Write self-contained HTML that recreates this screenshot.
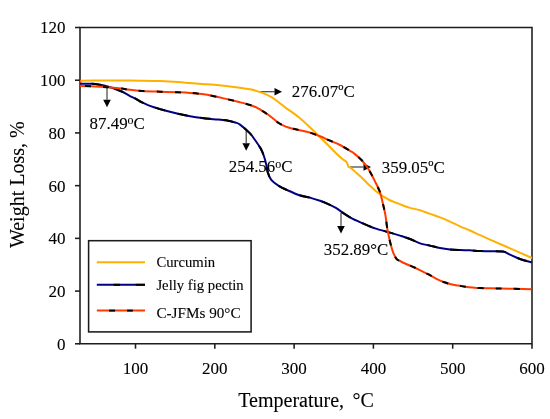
<!DOCTYPE html>
<html><head><meta charset="utf-8"><style>
html,body{margin:0;padding:0;background:#fff;}
body{width:550px;height:419px;overflow:hidden;}
svg{display:block;}
text{font-family:"Liberation Serif","Times New Roman",serif;fill:#000;stroke:#000;stroke-width:0.1px;}
.t16{font-size:17px;}
.ta{font-size:16.9px;}
.tl{font-size:14.7px;}
.tt{font-size:20px;}
.sup{font-size:12px;}
</style></head><body>
<svg width="550" height="419" viewBox="0 0 550 419">
<path d="M80,343.8 L80,27.5 L532,27.5 L532,343.8 Z" fill="none" stroke="#1c1c1c" stroke-width="1.55"/>
<line x1="75" y1="343.80" x2="80" y2="343.80" stroke="#1c1c1c" stroke-width="1.55"/>
<text x="65.5" y="349.70" text-anchor="end" class="t16">0</text>
<line x1="75" y1="291.08" x2="80" y2="291.08" stroke="#1c1c1c" stroke-width="1.55"/>
<text x="65.5" y="296.98" text-anchor="end" class="t16">20</text>
<line x1="75" y1="238.37" x2="80" y2="238.37" stroke="#1c1c1c" stroke-width="1.55"/>
<text x="65.5" y="244.27" text-anchor="end" class="t16">40</text>
<line x1="75" y1="185.65" x2="80" y2="185.65" stroke="#1c1c1c" stroke-width="1.55"/>
<text x="65.5" y="191.55" text-anchor="end" class="t16">60</text>
<line x1="75" y1="132.93" x2="80" y2="132.93" stroke="#1c1c1c" stroke-width="1.55"/>
<text x="65.5" y="138.83" text-anchor="end" class="t16">80</text>
<line x1="75" y1="80.22" x2="80" y2="80.22" stroke="#1c1c1c" stroke-width="1.55"/>
<text x="65.5" y="86.12" text-anchor="end" class="t16">100</text>
<line x1="75" y1="27.50" x2="80" y2="27.50" stroke="#1c1c1c" stroke-width="1.55"/>
<text x="65.5" y="33.40" text-anchor="end" class="t16">120</text>
<line x1="135.51" y1="343.8" x2="135.51" y2="348.7" stroke="#1c1c1c" stroke-width="1.55"/>
<text x="135.51" y="373.6" text-anchor="middle" class="t16">100</text>
<line x1="214.81" y1="343.8" x2="214.81" y2="348.7" stroke="#1c1c1c" stroke-width="1.55"/>
<text x="214.81" y="373.6" text-anchor="middle" class="t16">200</text>
<line x1="294.11" y1="343.8" x2="294.11" y2="348.7" stroke="#1c1c1c" stroke-width="1.55"/>
<text x="294.11" y="373.6" text-anchor="middle" class="t16">300</text>
<line x1="373.40" y1="343.8" x2="373.40" y2="348.7" stroke="#1c1c1c" stroke-width="1.55"/>
<text x="373.40" y="373.6" text-anchor="middle" class="t16">400</text>
<line x1="452.70" y1="343.8" x2="452.70" y2="348.7" stroke="#1c1c1c" stroke-width="1.55"/>
<text x="452.70" y="373.6" text-anchor="middle" class="t16">500</text>
<line x1="532.00" y1="343.8" x2="532.00" y2="348.7" stroke="#1c1c1c" stroke-width="1.55"/>
<text x="532.00" y="373.6" text-anchor="middle" class="t16">600</text>
<text x="89.6" y="128.6" class="ta">87.49<tspan class="sup" dy="-4.5">o</tspan><tspan dy="4.5">C</tspan></text>
<text x="228.8" y="172.3" class="ta">254.56<tspan class="sup" dy="-4.5">o</tspan><tspan dy="4.5">C</tspan></text>
<text x="291.8" y="97" class="ta">276.07ºC</text>
<text x="381.8" y="172.7" class="ta">359.05ºC</text>
<text x="323.8" y="254.5" class="ta">352.89°C</text>
<line x1="107.0" y1="86.4" x2="107.00" y2="99.70" stroke="#404040" stroke-width="1.2"/>
<polygon points="107.0,107.2 103.20,99.70 110.80,99.70" fill="#000"/>
<line x1="246.2" y1="130.5" x2="246.20" y2="143.20" stroke="#404040" stroke-width="1.2"/>
<polygon points="246.2,150.7 242.40,143.20 250.00,143.20" fill="#000"/>
<line x1="260" y1="91.7" x2="274.50" y2="91.70" stroke="#404040" stroke-width="1.2"/>
<polygon points="282,91.7 274.50,95.50 274.50,87.90" fill="#000"/>
<line x1="350" y1="167" x2="363.50" y2="167.00" stroke="#404040" stroke-width="1.2"/>
<polygon points="371,167 363.50,170.80 363.50,163.20" fill="#000"/>
<line x1="341" y1="213" x2="341.00" y2="226.10" stroke="#404040" stroke-width="1.2"/>
<polygon points="341,233.6 337.20,226.10 344.80,226.10" fill="#000"/>
<line x1="80.6" y1="80.2" x2="80.6" y2="86.4" stroke="#FF3A00" stroke-width="1.6"/>
<path d="M80.50,80.80 C83.75,80.75 93.42,80.55 100.00,80.50 C106.58,80.45 113.33,80.47 120.00,80.50 C126.67,80.53 133.33,80.60 140.00,80.70 C146.67,80.80 153.67,80.88 160.00,81.10 C166.33,81.32 173.00,81.67 178.00,82.00 C183.00,82.33 186.00,82.77 190.00,83.10 C194.00,83.43 198.00,83.72 202.00,84.00 C206.00,84.28 210.00,84.47 214.00,84.80 C218.00,85.13 222.00,85.55 226.00,86.00 C230.00,86.45 234.00,86.95 238.00,87.50 C242.00,88.05 246.80,88.68 250.00,89.30 C253.20,89.92 254.82,90.48 257.20,91.20 C259.58,91.92 261.92,92.60 264.30,93.60 C266.68,94.60 269.10,95.77 271.50,97.20 C273.90,98.63 276.32,100.42 278.70,102.20 C281.08,103.98 283.42,106.12 285.80,107.90 C288.18,109.68 290.63,111.18 293.00,112.90 C295.37,114.62 297.63,116.23 300.00,118.20 C302.37,120.17 304.82,122.48 307.20,124.70 C309.58,126.92 311.92,129.17 314.30,131.50 C316.68,133.83 319.10,136.32 321.50,138.70 C323.90,141.08 326.32,143.42 328.70,145.80 C331.08,148.18 333.42,150.70 335.80,153.00 C338.18,155.30 341.33,158.23 343.00,159.60 C344.67,160.97 345.08,160.55 345.80,161.20 C346.52,161.85 346.85,162.57 347.30,163.50 C347.75,164.43 347.80,165.97 348.50,166.80 C349.20,167.63 350.15,167.45 351.50,168.50 C352.85,169.55 354.67,171.35 356.60,173.10 C358.53,174.85 360.92,176.92 363.10,179.00 C365.28,181.08 367.50,183.52 369.70,185.60 C371.90,187.68 374.12,189.75 376.30,191.50 C378.48,193.25 380.62,194.68 382.80,196.10 C384.98,197.52 387.20,198.90 389.40,200.00 C391.60,201.10 393.82,201.82 396.00,202.70 C398.18,203.58 400.17,204.43 402.50,205.30 C404.83,206.17 407.08,207.08 410.00,207.90 C412.92,208.72 416.67,209.20 420.00,210.20 C423.33,211.20 426.67,212.70 430.00,213.90 C433.33,215.10 436.67,216.12 440.00,217.40 C443.33,218.68 446.67,220.12 450.00,221.60 C453.33,223.08 456.67,224.82 460.00,226.30 C463.33,227.78 466.67,229.02 470.00,230.50 C473.33,231.98 476.67,233.68 480.00,235.20 C483.33,236.72 485.00,237.42 490.00,239.60 C495.00,241.78 503.00,245.23 510.00,248.30 C517.00,251.37 528.33,256.38 532.00,258.00" fill="none" stroke="#FFB000" stroke-width="2" stroke-linejoin="round"/>
<path d="M80.00,83.70 C82.00,83.70 88.67,83.52 92.00,83.70 C95.33,83.88 97.25,84.28 100.00,84.80 C102.75,85.32 105.80,86.07 108.50,86.80 C111.20,87.53 113.65,88.25 116.20,89.20 C118.75,90.15 121.43,91.32 123.80,92.50 C126.17,93.68 128.37,95.23 130.40,96.30 C132.43,97.37 134.07,97.88 136.00,98.90 C137.93,99.92 140.00,101.37 142.00,102.40 C144.00,103.43 146.00,104.30 148.00,105.10 C150.00,105.90 151.00,106.25 154.00,107.20 C157.00,108.15 162.00,109.70 166.00,110.80 C170.00,111.90 174.00,112.90 178.00,113.80 C182.00,114.70 186.00,115.50 190.00,116.20 C194.00,116.90 198.00,117.50 202.00,118.00 C206.00,118.50 210.00,118.82 214.00,119.20 C218.00,119.58 222.45,119.75 226.00,120.30 C229.55,120.85 232.97,121.78 235.30,122.50 C237.63,123.22 237.55,122.78 240.00,124.60 C242.45,126.42 247.50,130.83 250.00,133.40 C252.50,135.97 253.22,137.47 255.00,140.00 C256.78,142.53 259.15,145.73 260.70,148.60 C262.25,151.47 263.33,154.33 264.30,157.20 C265.27,160.07 265.88,163.17 266.50,165.80 C267.12,168.43 267.17,170.62 268.00,173.00 C268.83,175.38 269.72,177.97 271.50,180.10 C273.28,182.23 276.08,184.13 278.70,185.80 C281.32,187.47 283.75,188.53 287.20,190.10 C290.65,191.67 295.37,193.87 299.40,195.20 C303.43,196.53 307.97,197.17 311.40,198.10 C314.83,199.03 317.28,199.85 320.00,200.80 C322.72,201.75 325.05,202.62 327.70,203.80 C330.35,204.98 333.17,206.27 335.90,207.90 C338.63,209.53 341.37,211.82 344.10,213.60 C346.83,215.38 349.57,217.15 352.30,218.60 C355.03,220.05 357.78,221.08 360.50,222.30 C363.22,223.52 365.88,224.80 368.60,225.90 C371.32,227.00 373.23,227.78 376.80,228.90 C380.37,230.02 386.13,231.48 390.00,232.60 C393.87,233.72 396.67,234.53 400.00,235.60 C403.33,236.67 406.67,237.70 410.00,239.00 C413.33,240.30 416.67,242.30 420.00,243.40 C423.33,244.50 426.67,244.83 430.00,245.60 C433.33,246.37 436.67,247.37 440.00,248.00 C443.33,248.63 446.67,249.07 450.00,249.40 C453.33,249.73 456.67,249.85 460.00,250.00 C463.33,250.15 466.67,250.13 470.00,250.30 C473.33,250.47 476.67,250.85 480.00,251.00 C483.33,251.15 486.17,251.10 490.00,251.20 C493.83,251.30 499.67,251.02 503.00,251.60 C506.33,252.18 507.17,253.47 510.00,254.70 C512.83,255.93 516.33,257.72 520.00,259.00 C523.67,260.28 530.00,261.83 532.00,262.40" fill="none" stroke="#000080" stroke-width="2" stroke-linejoin="round"/>
<path d="M80.00,83.70 C82.00,83.70 88.67,83.52 92.00,83.70 C95.33,83.88 97.25,84.28 100.00,84.80 C102.75,85.32 105.80,86.07 108.50,86.80 C111.20,87.53 113.65,88.25 116.20,89.20 C118.75,90.15 121.43,91.32 123.80,92.50 C126.17,93.68 128.37,95.23 130.40,96.30 C132.43,97.37 134.07,97.88 136.00,98.90 C137.93,99.92 140.00,101.37 142.00,102.40 C144.00,103.43 146.00,104.30 148.00,105.10 C150.00,105.90 151.00,106.25 154.00,107.20 C157.00,108.15 162.00,109.70 166.00,110.80 C170.00,111.90 174.00,112.90 178.00,113.80 C182.00,114.70 186.00,115.50 190.00,116.20 C194.00,116.90 198.00,117.50 202.00,118.00 C206.00,118.50 210.00,118.82 214.00,119.20 C218.00,119.58 222.45,119.75 226.00,120.30 C229.55,120.85 232.97,121.78 235.30,122.50 C237.63,123.22 237.55,122.78 240.00,124.60 C242.45,126.42 247.50,130.83 250.00,133.40 C252.50,135.97 253.22,137.47 255.00,140.00 C256.78,142.53 259.15,145.73 260.70,148.60 C262.25,151.47 263.33,154.33 264.30,157.20 C265.27,160.07 265.88,163.17 266.50,165.80 C267.12,168.43 267.17,170.62 268.00,173.00 C268.83,175.38 269.72,177.97 271.50,180.10 C273.28,182.23 276.08,184.13 278.70,185.80 C281.32,187.47 283.75,188.53 287.20,190.10 C290.65,191.67 295.37,193.87 299.40,195.20 C303.43,196.53 307.97,197.17 311.40,198.10 C314.83,199.03 317.28,199.85 320.00,200.80 C322.72,201.75 325.05,202.62 327.70,203.80 C330.35,204.98 333.17,206.27 335.90,207.90 C338.63,209.53 341.37,211.82 344.10,213.60 C346.83,215.38 349.57,217.15 352.30,218.60 C355.03,220.05 357.78,221.08 360.50,222.30 C363.22,223.52 365.88,224.80 368.60,225.90 C371.32,227.00 373.23,227.78 376.80,228.90 C380.37,230.02 386.13,231.48 390.00,232.60 C393.87,233.72 396.67,234.53 400.00,235.60 C403.33,236.67 406.67,237.70 410.00,239.00 C413.33,240.30 416.67,242.30 420.00,243.40 C423.33,244.50 426.67,244.83 430.00,245.60 C433.33,246.37 436.67,247.37 440.00,248.00 C443.33,248.63 446.67,249.07 450.00,249.40 C453.33,249.73 456.67,249.85 460.00,250.00 C463.33,250.15 466.67,250.13 470.00,250.30 C473.33,250.47 476.67,250.85 480.00,251.00 C483.33,251.15 486.17,251.10 490.00,251.20 C493.83,251.30 499.67,251.02 503.00,251.60 C506.33,252.18 507.17,253.47 510.00,254.70 C512.83,255.93 516.33,257.72 520.00,259.00 C523.67,260.28 530.00,261.83 532.00,262.40" fill="none" stroke="#000" stroke-width="2" stroke-dasharray="10 13" stroke-dashoffset="11.5"/>
<path d="M80.00,85.90 C83.33,86.05 94.88,86.53 100.00,86.80 C105.12,87.07 107.10,87.20 110.70,87.50 C114.30,87.80 118.38,88.22 121.60,88.60 C124.82,88.98 126.60,89.42 130.00,89.80 C133.40,90.18 137.00,90.58 142.00,90.90 C147.00,91.22 154.00,91.47 160.00,91.70 C166.00,91.93 173.00,92.10 178.00,92.30 C183.00,92.50 186.00,92.60 190.00,92.90 C194.00,93.20 198.00,93.55 202.00,94.10 C206.00,94.65 210.00,95.40 214.00,96.20 C218.00,97.00 222.00,97.97 226.00,98.90 C230.00,99.83 234.00,100.78 238.00,101.80 C242.00,102.82 246.80,103.98 250.00,105.00 C253.20,106.02 254.82,106.70 257.20,107.90 C259.58,109.10 261.92,110.65 264.30,112.20 C266.68,113.75 269.10,115.40 271.50,117.20 C273.90,119.00 276.32,121.43 278.70,123.00 C281.08,124.57 283.42,125.65 285.80,126.60 C288.18,127.55 290.63,128.10 293.00,128.70 C295.37,129.30 297.17,129.55 300.00,130.20 C302.83,130.85 306.67,131.58 310.00,132.60 C313.33,133.62 316.67,134.95 320.00,136.30 C323.33,137.65 326.67,139.25 330.00,140.70 C333.33,142.15 336.67,143.32 340.00,145.00 C343.33,146.68 347.62,149.37 350.00,150.80 C352.38,152.23 352.38,152.07 354.30,153.60 C356.22,155.13 359.35,157.73 361.50,160.00 C363.65,162.27 365.53,164.80 367.20,167.20 C368.87,169.60 370.07,171.77 371.50,174.40 C372.93,177.03 374.68,180.73 375.80,183.00 C376.92,185.27 377.47,186.37 378.20,188.00 C378.93,189.63 379.43,190.25 380.20,192.80 C380.97,195.35 381.93,199.60 382.80,203.30 C383.67,207.00 384.63,210.65 385.40,215.00 C386.17,219.35 386.58,224.78 387.40,229.40 C388.22,234.02 389.35,238.88 390.30,242.70 C391.25,246.52 392.07,249.62 393.10,252.30 C394.13,254.98 395.35,257.35 396.50,258.80 C397.65,260.25 398.20,260.05 400.00,261.00 C401.80,261.95 404.88,263.42 407.30,264.50 C409.72,265.58 412.08,266.40 414.50,267.50 C416.92,268.60 419.37,269.90 421.80,271.10 C424.23,272.30 426.67,273.42 429.10,274.70 C431.53,275.98 433.98,277.58 436.40,278.80 C438.82,280.02 441.18,281.10 443.60,282.00 C446.02,282.90 448.47,283.60 450.90,284.20 C453.33,284.80 455.77,285.18 458.20,285.60 C460.63,286.02 463.08,286.38 465.50,286.70 C467.92,287.02 470.28,287.27 472.70,287.50 C475.12,287.73 475.45,287.93 480.00,288.10 C484.55,288.27 491.33,288.32 500.00,288.50 C508.67,288.68 526.67,289.08 532.00,289.20" fill="none" stroke="#FF3A00" stroke-width="2" stroke-linejoin="round"/>
<path d="M80.00,85.90 C83.33,86.05 94.88,86.53 100.00,86.80 C105.12,87.07 107.10,87.20 110.70,87.50 C114.30,87.80 118.38,88.22 121.60,88.60 C124.82,88.98 126.60,89.42 130.00,89.80 C133.40,90.18 137.00,90.58 142.00,90.90 C147.00,91.22 154.00,91.47 160.00,91.70 C166.00,91.93 173.00,92.10 178.00,92.30 C183.00,92.50 186.00,92.60 190.00,92.90 C194.00,93.20 198.00,93.55 202.00,94.10 C206.00,94.65 210.00,95.40 214.00,96.20 C218.00,97.00 222.00,97.97 226.00,98.90 C230.00,99.83 234.00,100.78 238.00,101.80 C242.00,102.82 246.80,103.98 250.00,105.00 C253.20,106.02 254.82,106.70 257.20,107.90 C259.58,109.10 261.92,110.65 264.30,112.20 C266.68,113.75 269.10,115.40 271.50,117.20 C273.90,119.00 276.32,121.43 278.70,123.00 C281.08,124.57 283.42,125.65 285.80,126.60 C288.18,127.55 290.63,128.10 293.00,128.70 C295.37,129.30 297.17,129.55 300.00,130.20 C302.83,130.85 306.67,131.58 310.00,132.60 C313.33,133.62 316.67,134.95 320.00,136.30 C323.33,137.65 326.67,139.25 330.00,140.70 C333.33,142.15 336.67,143.32 340.00,145.00 C343.33,146.68 347.62,149.37 350.00,150.80 C352.38,152.23 352.38,152.07 354.30,153.60 C356.22,155.13 359.35,157.73 361.50,160.00 C363.65,162.27 365.53,164.80 367.20,167.20 C368.87,169.60 370.07,171.77 371.50,174.40 C372.93,177.03 374.68,180.73 375.80,183.00 C376.92,185.27 377.47,186.37 378.20,188.00 C378.93,189.63 379.43,190.25 380.20,192.80 C380.97,195.35 381.93,199.60 382.80,203.30 C383.67,207.00 384.63,210.65 385.40,215.00 C386.17,219.35 386.58,224.78 387.40,229.40 C388.22,234.02 389.35,238.88 390.30,242.70 C391.25,246.52 392.07,249.62 393.10,252.30 C394.13,254.98 395.35,257.35 396.50,258.80 C397.65,260.25 398.20,260.05 400.00,261.00 C401.80,261.95 404.88,263.42 407.30,264.50 C409.72,265.58 412.08,266.40 414.50,267.50 C416.92,268.60 419.37,269.90 421.80,271.10 C424.23,272.30 426.67,273.42 429.10,274.70 C431.53,275.98 433.98,277.58 436.40,278.80 C438.82,280.02 441.18,281.10 443.60,282.00 C446.02,282.90 448.47,283.60 450.90,284.20 C453.33,284.80 455.77,285.18 458.20,285.60 C460.63,286.02 463.08,286.38 465.50,286.70 C467.92,287.02 470.28,287.27 472.70,287.50 C475.12,287.73 475.45,287.93 480.00,288.10 C484.55,288.27 491.33,288.32 500.00,288.50 C508.67,288.68 526.67,289.08 532.00,289.20" fill="none" stroke="#000" stroke-width="2" stroke-dasharray="6 12" stroke-dashoffset="13"/>
<rect x="88.6" y="240.7" width="162.5" height="91.19999999999999" fill="#fff" stroke="#1c1c1c" stroke-width="1.55"/>
<line x1="96.8" y1="262.3" x2="145" y2="262.3" stroke="#FFB000" stroke-width="2"/>
<text x="156.4" y="266.7" class="tl">Curcumin</text>
<line x1="96.8" y1="284.8" x2="145" y2="284.8" stroke="#000080" stroke-width="2"/>
<line x1="113.5" y1="284.8" x2="120" y2="284.8" stroke="#000" stroke-width="2"/>
<line x1="135.8" y1="284.8" x2="145" y2="284.8" stroke="#000" stroke-width="2"/>
<text x="156.4" y="289.6" class="tl">Jelly fig pectin</text>
<line x1="96.8" y1="310.6" x2="145" y2="310.6" stroke="#FF3A00" stroke-width="2"/>
<line x1="109.1" y1="310.6" x2="115.1" y2="310.6" stroke="#000" stroke-width="2"/>
<line x1="127.1" y1="310.6" x2="132.8" y2="310.6" stroke="#000" stroke-width="2"/>
<text x="156.4" y="318.4" class="tl"><tspan style="font-size:15.2px">C-JFMs 90°C</tspan></text>
<text x="238.3" y="406.5" class="tt">Temperature, <tspan dx="3.5">°C</tspan></text>
<text transform="translate(24.3,184.7) rotate(-90)" text-anchor="middle" class="tt">Weight Loss, %</text>
</svg>
</body></html>
